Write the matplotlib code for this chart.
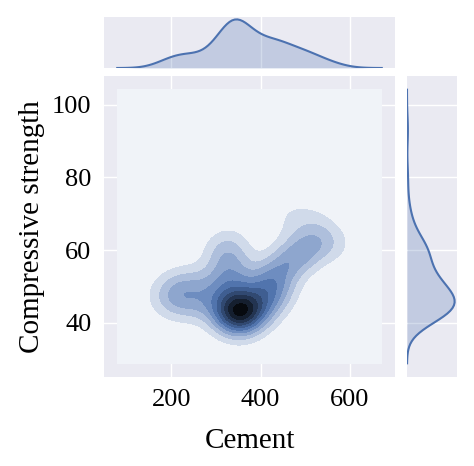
import colorsys
import numpy as np
import matplotlib
matplotlib.use("Agg")
import matplotlib.pyplot as plt
from matplotlib.colors import LinearSegmentedColormap, to_rgb

# Hand-read samples (cement, compressive strength)
cement = [
    # main core
    315, 320, 325, 328, 332, 335, 338, 340, 342, 344, 346, 348, 350, 352, 354, 356, 358, 360,
    362, 364, 366, 368, 370, 372, 375, 378, 382, 386, 390, 336, 352, 344, 326, 360, 310, 395,
    # upper-left extension
    318, 325, 332, 340, 348, 322, 336, 310, 345, 355, 328, 342, 315,
    # tongue
    320, 335, 305,
    # left lobe
    178, 188, 198, 208, 216, 224, 232, 240, 250, 260, 268, 195, 212, 228, 245, 255,
    # between left lobe and main
    278, 286, 294, 302,
    # right of main
    400, 405, 410, 415, 420, 425, 430, 435, 440, 445,
    398, 404, 412, 418, 424, 432, 438, 446,
    # secondary lobe
    450, 456, 462, 468, 474, 480, 486, 492, 498, 504, 512, 520, 530, 545, 572,
    # upper right
    515, 540, 560, 490, 505, 450,
    # high tail
    455, 430, 480,
]
strength = [
    41, 44, 42, 46, 40, 43, 45, 41, 44, 42, 46, 40, 43, 45, 41, 44, 42, 46,
    40, 43, 45, 41, 44, 42, 46, 43, 41, 45, 43, 47, 47, 40, 43, 40, 45, 44,
    50, 52, 54, 50, 52, 56, 57, 53, 55, 51, 59, 60, 58,
    62, 63, 60,
    48, 47, 49, 46, 50, 48, 45, 51, 47, 49, 45, 44, 52, 47, 44, 52,
    47, 51, 44, 49,
    47, 52, 44, 50, 48, 54, 46, 52, 49, 55,
    50, 45, 53, 46, 50, 48, 53, 50,
    56, 55, 57, 58, 57, 59, 58, 60, 59, 61, 60, 62, 63, 62, 62,
    67, 66, 61, 65, 70, 68,
    73, 80, 93,
]
x_label = "Cement"
y_label = "Compressive strength"
x_ticks = [200, 400, 600]
y_ticks = [40, 60, 80, 100]

BASE = "#4C72B0"
BG = "#EAEAF2"

plt.rcParams["font.family"] = ["Liberation Serif", "DejaVu Serif"]

x = np.asarray(cement, float)
y = np.asarray(strength, float)
n = len(x)


def bw_scott(a):
    iqr = np.subtract(*np.percentile(a, [75, 25]))
    A = min(np.std(a, ddof=1), iqr / 1.349)
    return 1.059 * A * n ** (-0.2)


bx, by = bw_scott(x), bw_scott(y)
cut = 3
xs = np.linspace(x.min() - cut * bx, x.max() + cut * bx, 100)
ys = np.linspace(y.min() - cut * by, y.max() + cut * by, 100)


def k1(grid, data, bw):
    return np.exp(-0.5 * ((grid[:, None] - data[None, :]) / bw) ** 2) / (bw * np.sqrt(2 * np.pi))


kx = k1(xs, x, bx)
ky = k1(ys, y, by)
Z = (ky @ kx.T) / n
fx = kx.mean(axis=1)
fy = ky.mean(axis=1)

h, l, s = colorsys.rgb_to_hls(*to_rgb(BASE))
cols = [colorsys.hls_to_rgb(h, li, s) for li in np.linspace(1, 0, 12)]
cmap = LinearSegmentedColormap.from_list("blend", cols)

fig = plt.figure(figsize=(4.74, 4.66), dpi=100)
ax = fig.add_axes([104 / 474, 1 - 377 / 466, 291 / 474, 301 / 466])
axt = fig.add_axes([104 / 474, 1 - 68 / 466, 291 / 474, 51 / 466], sharex=ax)
axr = fig.add_axes([407 / 474, 1 - 377 / 466, 50 / 474, 301 / 466], sharey=ax)

for a in (ax, axt, axr):
    a.set_facecolor(BG)
    for sp in a.spines.values():
        sp.set_visible(False)
    a.grid(True, color="white", linewidth=1.0)
    a.set_axisbelow(True)
    a.tick_params(length=0)

XX, YY = np.meshgrid(xs, ys)
ax.contourf(XX, YY, Z, 10, cmap=cmap)
ax.set_xticks(x_ticks)
ax.set_yticks(y_ticks)
ax.tick_params(labelsize=19, pad=9)
ax.set_xlabel(x_label, fontsize=21, labelpad=12)
ax.set_ylabel(y_label, fontsize=21, labelpad=5)

axt.fill_between(xs, fx, 0, color=BASE, alpha=0.25, linewidth=0)
axt.plot(xs, fx, color=BASE, linewidth=1.5)
axt.set_ylim(0, fx.max() * 1.05)
axt.tick_params(labelbottom=False, labelleft=False)
axt.yaxis.grid(False)

axr.fill_betweenx(ys, fy, 0, color=BASE, alpha=0.25, linewidth=0)
axr.plot(fy, ys, color=BASE, linewidth=1.5)
axr.set_xlim(0, fy.max() * 1.05)
axr.tick_params(labelbottom=False, labelleft=False)
axr.xaxis.grid(False)

ax.set_xlim(xs.min() - 0.05 * np.ptp(xs), xs.max() + 0.05 * np.ptp(xs))
ax.set_ylim(ys.min() - 0.05 * np.ptp(ys), ys.max() + 0.05 * np.ptp(ys))

fig.savefig("out.png", dpi=100)
